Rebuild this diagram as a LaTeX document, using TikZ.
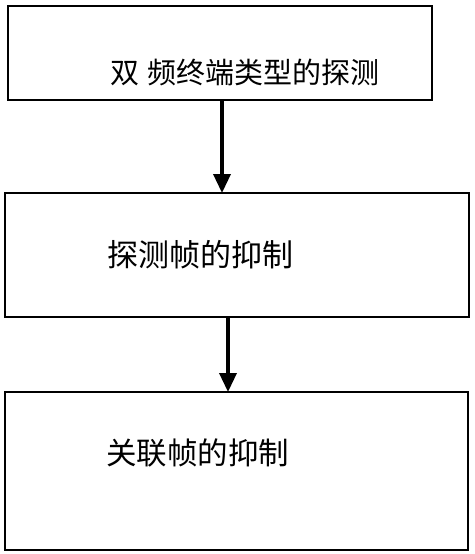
\documentclass[tikz,border=0pt]{standalone}
\usepackage{fontspec}
\newfontfamily\cjk{Noto Sans CJK SC}
\usetikzlibrary{arrows.meta}
\begin{document}
\begin{tikzpicture}[x=1pt,y=-1pt,
  boxstyle/.style={draw=black,line width=2.5pt,rectangle,inner sep=0pt,outer sep=0pt},
  txtstyle/.style={anchor=west,inner sep=0pt,font=\cjk},
  arrowstyle/.style={line width=3.5pt,-{Triangle[width=17pt,length=19pt]}}]
\useasboundingbox (0,0) rectangle (474,554);
\node[boxstyle,minimum width=424pt,minimum height=94pt] (b1) at (220,53) {};
\node[boxstyle,minimum width=464pt,minimum height=124pt] (b2) at (237,255) {};
\node[boxstyle,minimum width=463pt,minimum height=158pt] (b3) at (236.5,471) {};
\node[txtstyle,font=\cjk\fontsize{29pt}{29pt}\selectfont] (t1) at (110,72) {双\hspace{8pt}频终端类型的探测};
\node[txtstyle,font=\cjk\fontsize{31pt}{31pt}\selectfont] (t2) at (107,255) {探测帧的抑制};
\node[txtstyle,font=\cjk\fontsize{30.5pt}{30.5pt}\selectfont] (t3) at (106,453) {关联帧的抑制};
\coordinate (a1s) at ([xshift=2pt]b1.south);
\coordinate (a2s) at ([xshift=-9pt]b2.south);
\draw[arrowstyle] (a1s) -- (a1s |- b2.north);
\draw[arrowstyle] (a2s) -- (a2s |- b3.north);
\end{tikzpicture}
\end{document}
